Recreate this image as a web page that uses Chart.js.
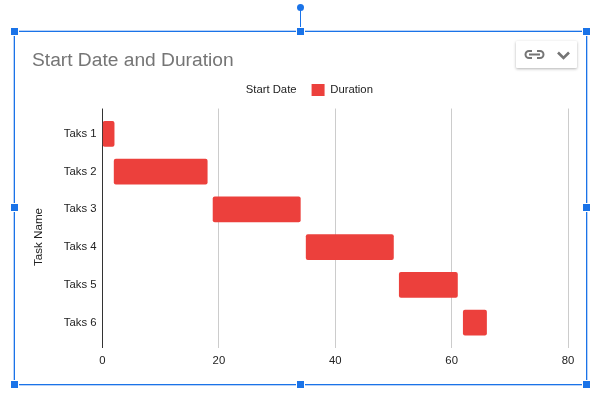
<!DOCTYPE html>
<html>
<head>
<meta charset="utf-8">
<script src="https://cdn.jsdelivr.net/npm/chart.js@4/dist/chart.umd.min.js"></script>
<style>
  html, body { margin: 0; background: #fff; }
  #wrap { position: relative; width: 598px; height: 394px; overflow: hidden; }
  canvas { position: absolute; left: 0; top: 0; }
  .edge { position: absolute; background: #1a73e8; }
  .handle { position: absolute; width: 7px; height: 7px; background: #1a73e8; outline: 1px solid #fff; }
  #knob { position: absolute; left: 297px; top: 4px; width: 7px; height: 7px; border-radius: 50%; background: #1a73e8; }
  #btn { position: absolute; left: 516px; top: 41px; width: 61px; height: 27px; background: #fff;
         box-shadow: 0 1px 3px rgba(0,0,0,.3); border-radius: 1px; }
</style>
</head>
<body>
<div id="wrap">
  <canvas id="chart" width="598" height="394"></canvas>
  <div class="edge" style="left:14px;top:31px;width:572px;height:1px;box-shadow:0 -1px 0 #b9d2f7"></div>
  <div class="edge" style="left:14px;top:384px;width:572px;height:1px;box-shadow:0 1px 0 #b9d2f7"></div>
  <div class="edge" style="left:14px;top:31px;width:1px;height:353px;box-shadow:-1px 0 0 #b9d2f7"></div>
  <div class="edge" style="left:586px;top:31px;width:1px;height:353px;box-shadow:1px 0 0 #b9d2f7"></div>
  <div style="position:absolute;left:300px;top:8px;width:1px;height:23px;background:#1a73e8"></div>
  <div id="knob"></div>
  <div class="handle" style="left:11px;top:28px"></div>
  <div class="handle" style="left:297px;top:28px"></div>
  <div class="handle" style="left:583px;top:28px"></div>
  <div class="handle" style="left:11px;top:204px"></div>
  <div class="handle" style="left:583px;top:204px"></div>
  <div class="handle" style="left:11px;top:381px"></div>
  <div class="handle" style="left:297px;top:381px"></div>
  <div class="handle" style="left:583px;top:381px"></div>
  <div id="btn">
    <svg width="61" height="27" viewBox="0 0 61 27">
      <g fill="none" stroke="#757575" stroke-width="2">
        <path d="M16 10 H13 a3.5 3.5 0 0 0 0 7 H16" />
        <path d="M21 10 H24 a3.5 3.5 0 0 1 0 7 H21" />
        <path d="M13 13.5 H24" />
        <path d="M42 11.5 L47.5 17 L53 11.5" stroke-width="2.6" />
      </g>
    </svg>
  </div>
</div>
<script>
const categories = ["Taks 1", "Taks 2", "Taks 3", "Taks 4", "Taks 5", "Taks 6"];
const startDate = [0, 2, 19, 35, 51, 62];
const duration = [2, 16, 15, 15, 10, 4];
const xTicks = [0, 20, 40, 60, 80];

const textColor = "#222222";
const font = { family: "'Liberation Sans', Arial, sans-serif", size: 11.3 };

const toPoints = (values) => values.map((v, i) => ({ x: v, y: i }));

// keep the legend's item spacing but stop it pushing the plot down
const legendFit = {
  id: "legendFit",
  afterInit(chart) {
    const originalFit = chart.legend.fit;
    chart.legend.fit = function fit() {
      originalFit.call(this);
      this.height = 39.5;
    };
  },
};

// the axis title sits below the middle of the axis, the scale title can't do that
const yAxisTitle = {
  id: "yAxisTitle",
  afterDraw(chart) {
    const { ctx } = chart;
    ctx.save();
    ctx.translate(38.5, 237);
    ctx.rotate(-Math.PI / 2);
    ctx.font = "11.6px " + font.family;
    ctx.fillStyle = textColor;
    ctx.textAlign = "center";
    ctx.textBaseline = "middle";
    ctx.fillText("Task Name", 0, 0);
    ctx.restore();
  },
};

const config = {
  type: "bar",
  data: {
    datasets: [
      {
        label: "Start Date",
        data: toPoints(startDate),
        backgroundColor: "rgba(0, 0, 0, 0)",
        borderWidth: 0,
        barThickness: 25,
      },
      {
        label: "Duration",
        data: toPoints(duration),
        backgroundColor: "#ec403c",
        borderRadius: 2,
        borderSkipped: false,
        barThickness: 25,
      },
    ],
  },
  options: {
    indexAxis: "y",
    responsive: false,
    animation: false,
    layout: { padding: { left: 32, right: 30, top: 49, bottom: 19.5 } },
    scales: {
      x: {
        type: "linear",
        stacked: true,
        min: 0,
        max: 80,
        afterBuildTicks: (axis) => {
          axis.ticks = xTicks.map((v) => ({ value: v }));
        },
        border: { display: false },
        grid: {
          color: (c) => (c.tick.value === 0 ? "#333333" : "#cccccc"),
          tickLength: 0,
          drawTicks: false,
        },
        ticks: { color: textColor, font: font, padding: 6.5, maxRotation: 0 },
      },
      y: {
        type: "linear",
        stacked: true,
        reverse: true,
        offset: false,
        // the axis runs a little past the first and last bands
        min: -0.67,
        max: 5.67,
        afterBuildTicks: (axis) => {
          axis.ticks = categories.map((c, i) => ({ value: i }));
        },
        afterFit: (axis) => {
          axis.width = 70.5;
        },
        border: { display: false },
        grid: { display: false, drawTicks: false, tickLength: 0 },
        ticks: {
          color: textColor,
          font: font,
          padding: 6,
          autoSkip: false,
          callback: (v) => categories[v],
        },
      },
    },
    plugins: {
      title: {
        display: true,
        text: "Start Date and Duration",
        align: "start",
        color: "#757575",
        font: { family: font.family, size: 19.2, weight: "normal" },
        padding: { top: 0, bottom: -3 },
      },
      legend: {
        position: "top",
        labels: {
          boxWidth: 13,
          boxHeight: 12,
          padding: 15,
          color: textColor,
          font: font,
        },
      },
      tooltip: { enabled: false },
    },
  },
  plugins: [legendFit, yAxisTitle],
};

const chart = new Chart(document.getElementById("chart"), config);
</script>
</body>
</html>
